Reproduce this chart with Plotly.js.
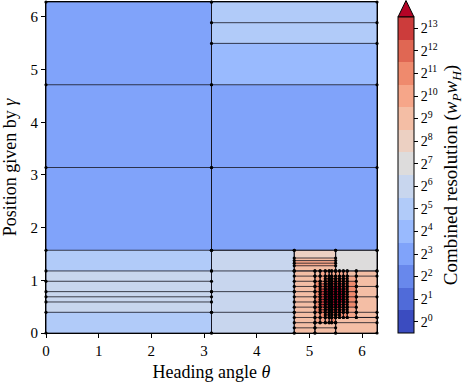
<!DOCTYPE html>
<html><head><meta charset="utf-8">
<script src="https://cdn.plot.ly/plotly-3.0.1.min.js"></script>
<style>html,body{margin:0;padding:0;background:#fff}</style>
</head><body><div id="plot" style="width:474px;height:382px"></div>
<script>
// ---- Data: adaptive partition of [0,2pi]x[0,2pi]; coordinates in grid units of pi/64 ----
// Each column: theta range [colTheta0, colTheta1], cut horizontally at colBreaks,
// each resulting cell has resolution exponent colLevels (value = 2^level; 14 = above 2^13).
const colTheta0 = [0, 64, 64, 112, 96, 96, 104, 112, 120, 104, 106, 108, 109.5, 110.5, 112, 113.5, 115, 116.5];
const colTheta1 = [64, 128, 96, 128, 112, 104, 112, 128, 128, 106, 108, 109.5, 110.5, 112, 113.5, 115, 116.5, 120];
const colBreaks = [
  [0, 8, 12, 14, 16, 20, 24, 32, 64, 96, 128],
  [32, 64, 96, 112, 120, 128],
  [0, 8, 16, 24, 32],
  [24, 32],
  [24, 26, 27, 28, 29, 32],
  [0, 2, 4, 6, 8, 10, 12, 14, 16, 18, 20, 22, 24],
  [0, 2, 4],
  [0, 4, 6],
  [6, 8, 14, 18, 22, 24],
  [4, 6, 8, 10, 12, 14, 16, 18, 20, 22, 24],
  [4, 6, 8, 9, 10, 11, 12, 13, 14, 15, 16, 17, 18, 19, 20, 22, 24],
  [4, 6, 7, 8, 9, 10, 11, 12, 13, 14, 15, 16, 17, 18, 19, 20, 21, 22, 24],
  [4, 6, 8, 9, 10, 11, 12, 13, 14, 15, 16, 17, 18, 19, 20, 21, 22, 24],
  [4, 6, 7, 8, 9, 10, 11, 12, 13, 14, 15, 16, 17, 18, 19, 20, 21, 22, 24],
  [6, 7, 8, 9, 10, 11, 12, 13, 14, 15, 16, 17, 18, 19, 20, 21, 22, 24],
  [6, 8, 9, 10, 11, 12, 13, 14, 15, 16, 17, 18, 19, 20, 21, 22, 24],
  [6, 8, 9, 10, 11, 12, 13, 14, 15, 16, 17, 18, 19, 20, 21, 22, 24],
  [6, 8, 10, 12, 14, 16, 18, 20, 22, 24]
];
const colLevels = [
  [5, 6, 6, 6, 6, 6, 5, 3, 3, 3],
  [3, 3, 4, 5, 5],
  [6, 6, 6, 6],
  [7],
  [9, 10, 10, 9, 8],
  [9, 9, 9, 9, 9, 9, 9, 9, 9, 9, 9, 9],
  [9, 9],
  [9, 9],
  [9, 9, 9, 9, 9],
  [10, 10, 11, 11, 11, 11, 11, 11, 10, 9],
  [10, 11, 12, 12, 13, 13, 13, 13, 13, 13, 13, 12, 12, 11, 10, 10],
  [10, 11, 12, 12, 13, 13, 14, 14, 14, 14, 14, 14, 13, 13, 12, 12, 11, 10],
  [11, 12, 13, 13, 14, 14, 14, 14, 14, 14, 14, 14, 14, 13, 12, 11, 10],
  [11, 11, 12, 13, 13, 14, 14, 14, 14, 14, 14, 14, 14, 13, 13, 12, 11, 10],
  [11, 12, 13, 13, 14, 14, 14, 14, 14, 14, 14, 14, 13, 13, 12, 11, 10],
  [11, 12, 12, 13, 13, 14, 14, 14, 14, 14, 13, 13, 12, 12, 11, 10],
  [11, 11, 12, 12, 13, 13, 13, 13, 13, 13, 13, 12, 12, 11, 11, 10],
  [10, 10, 11, 11, 11, 11, 11, 10, 9]
];
const xTickVals = [0, 1, 2, 3, 4, 5, 6];
const yTickVals = [0, 1, 2, 3, 4, 5, 6];
const cbLevels = [0, 1, 2, 3, 4, 5, 6, 7, 8, 9, 10, 11, 12, 13];
const cbTickText = ['2<sup>0</sup>','2<sup>1</sup>','2<sup>2</sup>','2<sup>3</sup>','2<sup>4</sup>','2<sup>5</sup>','2<sup>6</sup>','2<sup>7</sup>','2<sup>8</sup>','2<sup>9</sup>','2<sup>10</sup>','2<sup>11</sup>','2<sup>12</sup>','2<sup>13</sup>'];

// ---- Styles ----
const levelColors = ['#3b4cc0','#506bd9','#6888ec','#80a3fa','#99bafe','#b1cbf9','#c8d6ee','#dddcdc',
                     '#ecd0c2','#f4bea5','#f6a689','#ef8a6d','#e06753','#cc3c3b','#b40426'];
const FONT = 'Liberation Serif, DejaVu Serif, serif';
const U = Math.PI / 64;

function stepScale(n) {
  const cs = [];
  for (let k = 0; k < n; k++) { cs.push([k / n, levelColors[k]]); cs.push([(k + 1) / n, levelColors[k]]); }
  return cs;
}

// ---- Build grid for heatmap bricks ----
const xsSet = new Set(), ysSet = new Set();
colTheta0.forEach((t, i) => { xsSet.add(t); xsSet.add(colTheta1[i]); colBreaks[i].forEach(b => ysSet.add(b)); });
const xs = [...xsSet].sort((a, b) => a - b);
const ys = [...ysSet].sort((a, b) => a - b);
const z = [];
for (let j = 0; j < ys.length - 1; j++) {
  const row = [];
  const yc = (ys[j] + ys[j + 1]) / 2;
  for (let i = 0; i < xs.length - 1; i++) {
    const xc = (xs[i] + xs[i + 1]) / 2;
    let val = null;
    for (let c = 0; c < colTheta0.length; c++) {
      const br = colBreaks[c];
      if (xc > colTheta0[c] && xc < colTheta1[c] && yc > br[0] && yc < br[br.length - 1]) {
        for (let m = 0; m < br.length - 1; m++) if (yc > br[m] && yc < br[m + 1]) { val = colLevels[c][m]; break; }
        break;
      }
    }
    row.push(val);
  }
  z.push(row);
}
const xEdges = xs.map(v => v * U), yEdges = ys.map(v => v * U);

// ---- Cell outlines ----
const hx = [], hy = [], vx = [], vy = [];
colTheta0.forEach((t0, c) => {
  const t1 = colTheta1[c], br = colBreaks[c];
  br.forEach(b => { hx.push(t0 * U, t1 * U, null); hy.push(b * U, b * U, null); });
  [t0, t1].forEach(t => { vx.push(t * U, t * U, null); vy.push(br[0] * U, br[br.length - 1] * U, null); });
});

// geometry (pixels)
const W = 474, H = 382, M = {l: 46, r: 97, t: 2, b: 49};
const cbLeft = 398, cbThick = 16, cbTop = 17, cbBottom = 333;
const plotW = W - M.l - M.r, plotH = H - M.t - M.b;
const px2x = p => (p - M.l) / plotW, py2y = p => (H - M.b - p) / plotH;

const traces = [
  { type: 'heatmap', x: xEdges, y: yEdges, z: z, zmin: -0.5, zmax: 13.5, colorscale: stepScale(14),
    hoverinfo: 'skip', showscale: true,
    colorbar: { x: px2x(cbLeft), xanchor: 'left', y: py2y(cbBottom), yanchor: 'bottom',
      len: (cbBottom - cbTop) / plotH, lenmode: 'fraction', thickness: cbThick, thicknessmode: 'pixels', xpad: 0, ypad: 0,
      outlinewidth: 1, outlinecolor: '#000', tickvals: cbLevels, ticktext: cbTickText, ticks: 'outside', ticklen: 4,
      tickcolor: '#000', tickfont: {family: FONT, size: 14, color: '#000'},
      title: { text: 'Combined resolution (<i>w</i><sub><i>P</i></sub><i>w</i><sub><i>H</i></sub>)', side: 'right',
               font: {family: FONT, size: 19, color: '#000'} } } },
  { type: 'heatmap', x: xEdges, y: yEdges, z: z, zmin: -0.5, zmax: 14.5, colorscale: stepScale(15),
    hoverinfo: 'skip', showscale: false },
  { type: 'scatter', mode: 'lines', x: vx, y: vy, line: {color: '#151520', width: 1}, cliponaxis: false, hoverinfo: 'skip' },
  { type: 'scatter', mode: 'lines+markers', x: hx, y: hy, line: {color: '#151520', width: 0.8},
    marker: {color: '#000', size: 3.2}, cliponaxis: false, hoverinfo: 'skip' }
];

const axisCommon = { ticks: 'outside', ticklen: 4, tickcolor: '#000', showline: true, mirror: true, linecolor: '#000',
  linewidth: 1, showgrid: false, zeroline: false, tickfont: {family: FONT, size: 15, color: '#000'} };

const layout = {
  width: W, height: H, margin: M, paper_bgcolor: '#fff', plot_bgcolor: '#fff', showlegend: false,
  font: {family: FONT, color: '#000'},
  xaxis: Object.assign({}, axisCommon, { range: [0, 2 * Math.PI], tickvals: xTickVals,
    title: {text: 'Heading angle <i>θ</i>', font: {family: FONT, size: 18, color: '#000'}, standoff: 8} }),
  yaxis: Object.assign({}, axisCommon, { range: [0, 2 * Math.PI], tickvals: yTickVals,
    title: {text: 'Position given by <i>γ</i>', font: {family: FONT, size: 18, color: '#000'}, standoff: 9} }),
  shapes: [{ type: 'path', xref: 'paper', yref: 'paper', layer: 'above',
    path: 'M ' + px2x(cbLeft) + ' ' + py2y(cbTop) + ' L ' + px2x(cbLeft + cbThick) + ' ' + py2y(cbTop) +
          ' L ' + px2x(cbLeft + cbThick / 2) + ' ' + py2y(0.5) + ' Z',
    fillcolor: levelColors[14], line: {color: '#000', width: 1} }]
};

Plotly.newPlot('plot', traces, layout, {displayModeBar: false, staticPlot: true});
</script></body></html>
